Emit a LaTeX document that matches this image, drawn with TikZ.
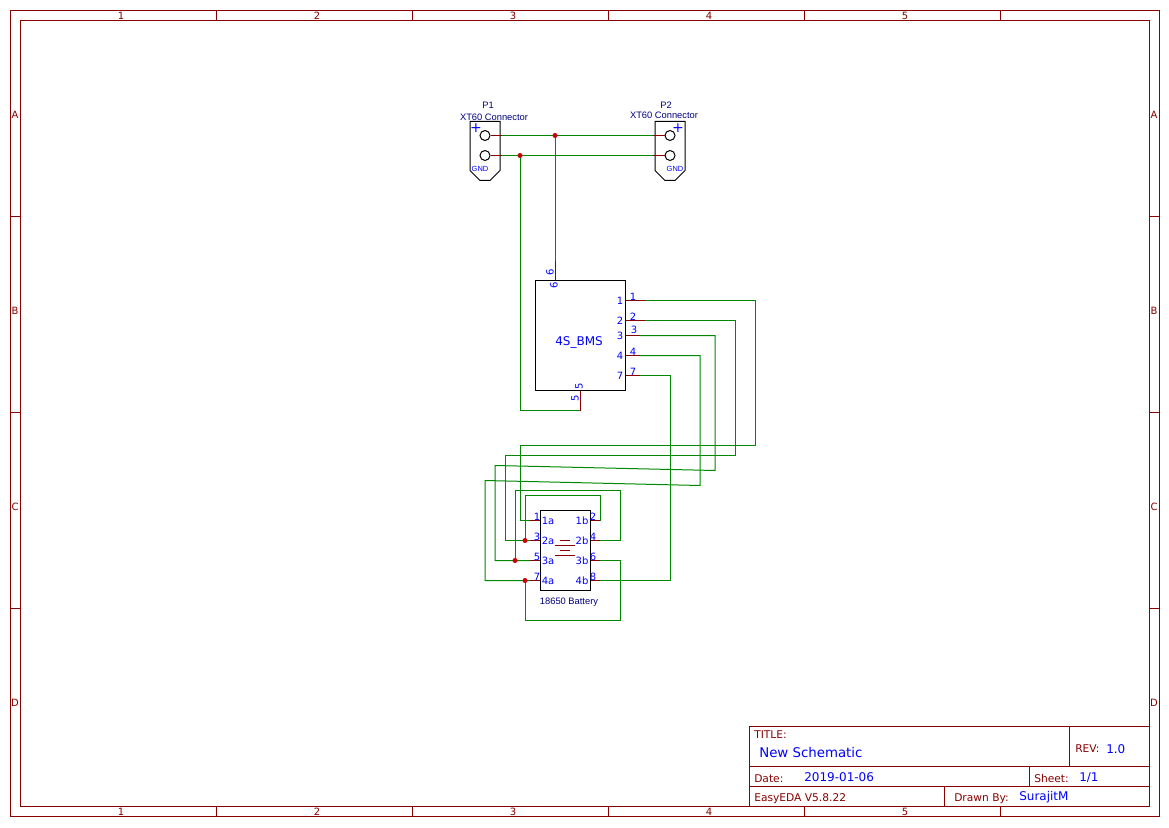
\documentclass[tikz,border=0pt]{standalone}
\usepackage{fontspec}
\setmainfont{DejaVu Sans}
\newfontfamily\partfont{Liberation Sans}
\usetikzlibrary{positioning}
\usetikzlibrary{calc}
\definecolor{sheetred}{HTML}{880000}
\definecolor{wiregreen}{HTML}{008800}
\begin{document}
\begin{tikzpicture}[x=.75pt,y=-.75pt,
	border/.style={draw=sheetred,line width=.75pt},
	wire/.style={draw=wiregreen,line width=.75pt},
	pin/.style={draw=sheetred,line width=.75pt},
	part/.style={draw=black,line width=.75pt,inner sep=0pt},
	dot/.style={circle,fill=red!80!black,inner sep=0pt,minimum size=3.75pt},
	zone/.style={text=sheetred,font=\fontsize{7.5}{9}\selectfont,inner sep=0pt},
	tlabel/.style={text=sheetred,font=\fontsize{8}{10}\selectfont,inner sep=0pt,anchor=west},
	tvalue/.style={text=blue,font=\fontsize{9}{11}\selectfont,inner sep=0pt,anchor=west},
	pinno/.style={text=blue,font=\fontsize{7.5}{9}\selectfont,inner sep=0pt},
	partname/.style={text=blue!50!black,font=\partfont\fontsize{7}{8}\selectfont,inner sep=0pt},
	node distance = 6pt]
		\useasboundingbox (0,0) rectangle (1169,827);
		\fill[white] (0,0) rectangle (1169,827);
		\begin{scope}[yshift=.375pt]
		\draw[border] (10,11) rectangle (1159,817);
		\draw[border] (20,21) rectangle (1149,807);
		\draw[border] (216,11) -- (216,21) (412,11) -- (412,21) (608,11) -- (608,21) (804,11) -- (804,21) (1000,11) -- (1000,21);
		\draw[border] (216,807) -- (216,817) (412,807) -- (412,817) (608,807) -- (608,817) (804,807) -- (804,817) (1000,807) -- (1000,817);
		\draw[border] (10,217) -- (20,217) (10,413) -- (20,413) (10,609) -- (20,609);
		\draw[border] (1149,217) -- (1159,217) (1149,413) -- (1159,413) (1149,609) -- (1159,609);
		\draw[border] (749,727) rectangle (1149,807);
		\draw[border] (749,767) -- (1149,767) (749,787) -- (1149,787);
		\draw[border] (1069,727) -- (1069,767) (1029,767) -- (1029,787) (944,787) -- (944,807);
		\end{scope}
		\path (121,16) node[zone] (top1){1} (317,16) node[zone] (top2){2} (513,16) node[zone] (top3){3} (709,16) node[zone] (top4){4} (905,16) node[zone] (top5){5};
		\path (121,812) node[zone] (bot1){1} (317,812) node[zone] (bot2){2} (513,812) node[zone] (bot3){3} (709,812) node[zone] (bot4){4} (905,812) node[zone] (bot5){5};
		\path (15,115) node[zone] (leftA){A} (15,311) node[zone] (leftB){B} (15,507) node[zone] (leftC){C} (15,703) node[zone] (leftD){D};
		\path (1154,115) node[zone] (rightA){A} (1154,311) node[zone] (rightB){B} (1154,507) node[zone] (rightC){C} (1154,703) node[zone] (rightD){D};

		\node[tlabel] (title) at (754,735){TITLE:};
		\node[tvalue,font=\fontsize{10}{12}\selectfont] (titleval) at (759,752.5){New Schematic};
		\node[tlabel] (rev) at (1075,749){REV:};
		\node[tvalue] (revval) at (1106,749){1.0};
		\node[tlabel] (date) at (754,778.5){Date:};
		\node[tvalue] (dateval) at (804,777.5){2019-01-06};
		\node[tlabel] (sheet) at (1034,778.5){Sheet:};
		\node[tvalue] (sheetval) at (1079,777.5){1/1};
		\node[tlabel] (easy) at (754,798.5){EasyEDA V5.8.22};
		\node[tlabel] (drawn) at (954,798.5){Drawn By:};
		\node[tvalue] (drawnval) at (1019,797.5){SurajitM};

		\begin{scope}[yshift=-.375pt]
		\draw[part] (470,121) -- (500,121) -- (500,170) -- (490,180) -- (480,180) -- (470,170) -- cycle;
		\draw[part] (655,121) -- (685,121) -- (685,170) -- (675,180) -- (665,180) -- (655,170) -- cycle;
		\node[part,circle,minimum size=7.5pt] (p1a) at (485,135){};
		\node[part,circle,minimum size=7.5pt] (p1b) at (485,155){};
		\node[part,circle,minimum size=7.5pt] (p2a) at (670,135){};
		\node[part,circle,minimum size=7.5pt] (p2b) at (670,155){};
		\node[partname] (p1) at (488,105){P1};
		\node[partname] (p1part) at (494,117){XT60 Connector};
		\node[partname] (p2) at (666,105){P2};
		\node[partname] (p2part) at (664,115){XT60 Connector};
		\node[pinno,font=\fontsize{10.5}{12}\selectfont] (p1plus) at (476,127.5){+};
		\node[pinno,font=\fontsize{10.5}{12}\selectfont] (p2plus) at (678,127.5){+};
		\node[pinno,font=\partfont\fontsize{5.6}{7}\selectfont] (p1gnd) at (480,168){GND};
		\node[pinno,font=\partfont\fontsize{5.6}{7}\selectfont] (p2gnd) at (675,168){GND};

		\node[part,minimum width=67.5pt,minimum height=82.5pt] (bms) at (580,335){};
		\node[pinno,font=\fontsize{9}{11}\selectfont] (bmsname) at (579,341.5){4S\_BMS};
		\coordinate (m1) at (645,300);
		\coordinate (m2) at (645,320);
		\coordinate (m3) at (640,335);
		\coordinate (m4) at (640,355);
		\coordinate (m7) at (640,375);
		\coordinate (m5) at (580,410);
		\coordinate (m6) at (555,260);
		\draw[pin] (m1) -- (m1 -| bms.east);
		\draw[pin] (m2) -- (m2 -| bms.east);
		\draw[pin] (m3) -- (m3 -| bms.east);
		\draw[pin] (m4) -- (m4 -| bms.east);
		\draw[pin] (m7) -- (m7 -| bms.east);
		\draw[pin] (m5) -- (m5 |- bms.south);
		\draw[pin] (m6) -- (m6 |- bms.north);
		\path (620,300) node[pinno] (in1){1} (620,320) node[pinno] (in2){2} (620,335) node[pinno] (in3){3} (620,355) node[pinno] (in4){4} (620,375) node[pinno] (in7){7};
		\path (633,296) node[pinno] (out1){1} (633,316) node[pinno] (out2){2} (634,329) node[pinno] (out3){3} (633,351) node[pinno] (out4){4} (633,371) node[pinno] (out7){7};
		\path (579,386) node[pinno,rotate=90] (in5){5} (575,398) node[pinno,rotate=90] (out5){5} (554,285) node[pinno,rotate=90] (in6){6} (550,272) node[pinno,rotate=90] (out6){6};

		\node[part,minimum width=37.5pt,minimum height=60pt] (batt) at (565,550){};
		\coordinate (b1) at (530,520);
		\coordinate (b3) at (530,540);
		\coordinate (b5) at (530,560);
		\coordinate (b7) at (530,580);
		\coordinate (b2) at (600,520);
		\coordinate (b4) at (600,540);
		\coordinate (b6) at (600,560);
		\coordinate (b8) at (600,580);
		\draw[pin] (b1) -- (b1 -| batt.west);
		\draw[pin] (b3) -- (b3 -| batt.west);
		\draw[pin] (b5) -- (b5 -| batt.west);
		\draw[pin] (b7) -- (b7 -| batt.west);
		\draw[pin] (b2) -- (b2 -| batt.east);
		\draw[pin] (b4) -- (b4 -| batt.east);
		\draw[pin] (b6) -- (b6 -| batt.east);
		\draw[pin] (b8) -- (b8 -| batt.east);
		\draw[pin] (560,540) -- (570,540) (555,545) -- (575,545) (560,550) -- (570,550) (555,555) -- (575,555);
		\path (537,516) node[pinno] (n1){1} (537,536) node[pinno] (n3){3} (537,556) node[pinno] (n5){5} (537,576) node[pinno] (n7){7};
		\path (593,516) node[pinno] (n2){2} (593,536) node[pinno] (n4){4} (593,556) node[pinno] (n6){6} (593,576) node[pinno] (n8){8};
		\path (548,520) node[pinno] (n1a){1a} (548,540) node[pinno] (n2a){2a} (548,560) node[pinno] (n3a){3a} (548,580) node[pinno] (n4a){4a};
		\path (582,520) node[pinno] (n1b){1b} (582,540) node[pinno] (n2b){2b} (582,560) node[pinno] (n3b){3b} (582,580) node[pinno] (n4b){4b};
		\node[partname] (battname) at (569,602){18650 Battery};

		\coordinate (j1) at (555,135);
		\coordinate (j2) at (520,155);
		\coordinate (j3) at (525,540);
		\coordinate (j4) at (515,560);
		\coordinate (j5) at (525,580);
		\draw[pin] (p1a) -- (502,135) (p1b) -- (502,155) (p2a) -- (653,135) (p2b) -- (653,155);
		\draw[wire] (502,135) -- (653,135);
		\draw[wire] (502,155) -- (653,155);
		\draw[wire] (j1) -- (m6);
		\draw[wire] (j2) |- (m5);
		\draw[wire] (m1) -- ++(110,0) -- ++(0,145) -- ++(-235,0) |- (b1);
		\draw[wire] (m2) -- ++(90,0) -- ++(0,135) -- ++(-230,0) |- (b3);
		\draw[wire] (m3) -- ++(75,0) -- ++(0,135) -- ++(-220,-5) |- (b5);
		\draw[wire] (m4) -- ++(60,0) -- ++(0,130) -- ++(-215,-5) |- (b7);
		\draw[wire] (m7) -| (670,580) -- (b8);
		\draw[wire] (b2) |- (525,495) -- (j3);
		\draw[wire] (b4) -| (620,490) -| (j4);
		\draw[wire] (b6) -| (620,620) -| (j5);
		\node[dot] (dot1) at (j1){};
		\node[dot] (dot2) at (j2){};
		\node[dot] (dot3) at (j3){};
		\node[dot] (dot4) at (j4){};
		\node[dot] (dot5) at (j5){};
		\end{scope}
	\end{tikzpicture}
\end{document}
